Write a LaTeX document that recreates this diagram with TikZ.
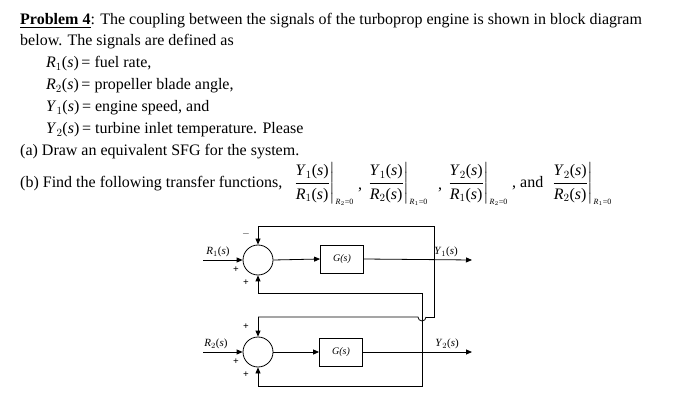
\documentclass[tikz,border=0pt]{standalone}
\usepackage{amsmath}
\usepackage{fontspec}
\setmainfont{Liberation Serif}
\usetikzlibrary{arrows.meta}
\newcommand{\vr}[2]{\textit{#1}$_{#2}$(\textit{s})}
\newcommand{\tfr}[3]{$\left.\dfrac{\text{\vr{Y}{#1}}}{\text{\vr{R}{#2}}}\right|_{\text{\fontsize{8}{9}\selectfont\textit{R}$_{#3}$=0}}$}
\begin{document}
\begin{tikzpicture}[x=1pt,y=-1pt,
  txt/.style={anchor=base west,inner sep=0,font=\fontsize{16}{18}\selectfont},
  frac/.style={anchor=west,inner sep=0,font=\fontsize{16}{18}\selectfont},
  sumj/.style={draw,circle,minimum size=30pt,inner sep=0,thick},
  blk/.style={draw,minimum width=43pt,minimum height=28pt,inner sep=0,thick},
  lbl/.style={inner sep=1pt,font=\fontsize{11}{13}\selectfont},
  sgn/.style={inner sep=0,font=\fontsize{10}{12}\selectfont\bfseries},
  wire/.style={thick},
  arr/.style={thick,-{Triangle[length=6pt,width=5pt]}}]
\useasboundingbox (0,0) rectangle (691,406);
\node[txt] (l1) at (20,25) {\underline{\textbf{Problem 4}}: The coupling between the signals of the turboprop engine is shown in block diagram};
\node[txt] (l2) at (20,46) {below. The signals are defined as};
\node[txt] (l3) at (46,68) {\vr{R}{1}\,= fuel rate,};
\node[txt] (l4) at (46,90) {\vr{R}{2}\,= propeller blade angle,};
\node[txt] (l5) at (46,112) {\vr{Y}{1}\,= engine speed, and};
\node[txt] (l6) at (46,134) {\vr{Y}{2}\,= turbine inlet temperature. Please};
\node[txt] (l7) at (20,156) {(a) Draw an equivalent SFG for the system.};
\node[txt] (l8) at (20,188) {(b) Find the following transfer functions,};
\node[frac] (f1) at (293,184) {\tfr{1}{1}{2}};
\node[txt] (c1) at (358,190) {,};
\node[frac] (f2) at (367,184) {\tfr{1}{2}{1}};
\node[txt] (c2) at (438,190) {,};
\node[frac] (f3) at (447,184) {\tfr{2}{1}{2}};
\node[txt] (c3) at (512,188) {, and};
\node[frac] (f4) at (551,184) {\tfr{2}{2}{1}};
% diagram
\node[sumj] (s1) at (258,260) {};
\node[sumj] (s2) at (258,352) {};
\node[blk] (g1) at (342,259) {\itshape G(s)};
\node[blk] (g2) at (341,352) {\itshape G(s)};
\coordinate (in1) at (203,260);
\coordinate (in2) at (203,352);
\coordinate (o1) at (472,260);
\coordinate (o2) at (472,352);
\coordinate (ja) at (434,260);
\coordinate (jb) at (422,352);
\draw[arr] (in1) -- (s1.west);
\draw[arr] (in2) -- (s2.west);
\draw[arr] (s1.east) -- (g1.west);
\draw[arr] (s2.east) -- (g2.west);
\draw[arr] (g1.east) -- (o1);
\draw[arr] (g2.east) -- (o2);
\draw[arr] (ja) |- (258,226) -- (s1.north);
\draw[wire] (ja) |- (426,317);
\draw[wire] (426,317) arc (0:180:4) -- (258,317);
\draw[arr] (258,317) -- (s2.north);
\draw[arr] (jb) |- (258,293) -- (s1.south);
\draw[arr] (jb) |- (258,386) -- (s2.south);
\node[lbl,anchor=south] (r1) at (218,258) {\vr{R}{1}};
\node[lbl,anchor=south] (r2) at (216,350) {\vr{R}{2}};
\node[lbl,anchor=south] (y1) at (446,258) {\vr{Y}{1}};
\node[lbl,anchor=south] (y2) at (447,350) {\vr{Y}{2}};
\node[sgn] (m1) at (246,234) {$-$};
\node[sgn] (p1a) at (236,270) {+};
\node[sgn] (p1b) at (246,283) {+};
\node[sgn] (p2a) at (246,327) {+};
\node[sgn] (p2b) at (236,362) {+};
\node[sgn] (p2c) at (246,375) {+};
\end{tikzpicture}
\end{document}
